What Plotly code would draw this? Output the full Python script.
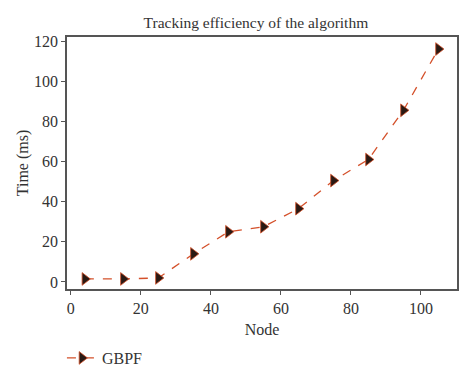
import plotly.graph_objects as go

nodes = [4, 15, 25, 35, 45, 55, 65, 75, 85, 95, 105]
time_ms = [1.5, 1.5, 2, 14, 25, 27.5, 36.5, 50.5, 61, 85.5, 116]
series_name = "GBPF"
x_ticks = [0, 20, 40, 60, 80, 100]
y_ticks = [0, 20, 40, 60, 80, 100, 120]

font_family = "Liberation Serif, Times New Roman, serif"

fig = go.Figure()
fig.add_trace(go.Scatter(
    x=nodes, y=time_ms, name=series_name, mode="lines+markers",
    line=dict(color="#d4502a", width=1.3, dash="dash"),
    marker=dict(symbol="triangle-right", size=11, color="#2a1a14",
                line=dict(color="#d4502a", width=0.8)),
))

axis_common = dict(
    showline=True, linecolor="#555555", linewidth=1.5, mirror=True,
    ticks="outside", ticklen=4, tickcolor="#555555", tickwidth=1,
    showgrid=False, zeroline=False, automargin=False,
    tickfont=dict(family=font_family, size=16, color="#333333"),
)

fig.update_layout(
    width=474, height=381,
    margin=dict(l=59, r=25, t=29, b=100, autoexpand=False),
    plot_bgcolor="white", paper_bgcolor="white",
    font=dict(family=font_family, color="#333333"),
    title=dict(text="Tracking efficiency of the algorithm", x=0.523, xanchor="center",
               y=0.963, yanchor="middle", font=dict(size=15.5, family=font_family, color="#333333")),
    xaxis=dict(range=[-1.1, 110.3], tickvals=x_ticks,
               title=dict(text="Node", font=dict(size=16, family=font_family), standoff=8),
               **axis_common),
    yaxis=dict(range=[-3.5, 122], tickvals=y_ticks,
               title=dict(text="Time (ms)", font=dict(size=16, family=font_family), standoff=1),
               **axis_common),
    showlegend=True,
    legend=dict(x=-0.013, xanchor="left", y=-0.274, yanchor="middle", itemwidth=30,
                font=dict(size=16, family=font_family, color="#333333"),
                bgcolor="rgba(0,0,0,0)"),
)

fig.write_html("out.html")
